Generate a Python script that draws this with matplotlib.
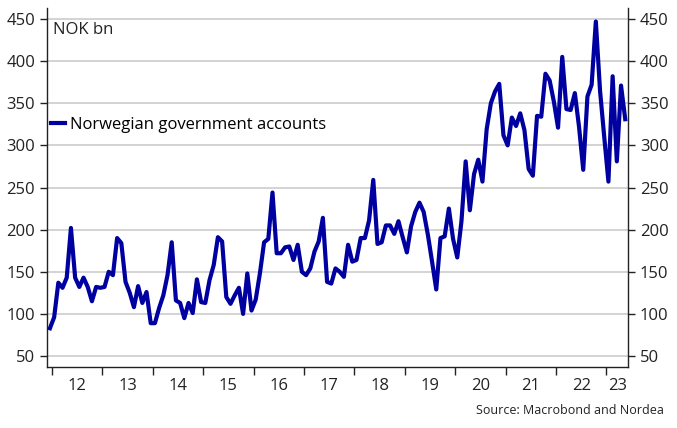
import numpy as np
import matplotlib
matplotlib.use("Agg")
import matplotlib.pyplot as plt

# Monthly values, NOK bn (Dec 2011 - May 2023)
accounts = [
    83, 96, 137, 131, 143, 202, 143, 132, 143, 132, 115, 132,
    131, 132, 150, 146, 190, 184, 138, 125, 108, 133, 113, 126,
    89, 89, 107, 122, 146, 185, 116, 113, 95, 113, 101, 141,
    114, 113, 140, 158, 191, 186, 120, 112, 122, 131, 100, 148,
    104, 117, 148, 185, 189, 244, 172, 172, 179, 180, 164, 182,
    150, 146, 154, 174, 186, 214, 138, 136, 154, 150, 144, 182,
    162, 164, 190, 190, 211, 259, 183, 185, 205, 205, 195, 210,
    191, 173, 204, 221, 232, 221, 194, 162, 129, 190, 192, 225,
    189, 167, 210, 281, 223, 266, 283, 257, 319, 350, 364, 373,
    312, 300, 333, 323, 338, 318, 272, 264, 335, 334, 385, 377,
    352, 321, 405, 343, 342, 362, 322, 271, 358, 372, 447, 365,
    310, 257, 382, 281, 371, 331,
]
years = list(range(2012, 2024))
year_labels = [str(y)[2:] for y in years]

# mid-month positions in decimal years, starting Dec 2011
t = 2012 - 0.5 / 12 + np.arange(len(accounts)) / 12

plt.rcParams["font.family"] = ["Open Sans", "DejaVu Sans"]

fig = plt.figure(figsize=(6.77, 4.28), dpi=100)
ax = fig.add_axes([47 / 677, 61 / 428, 581 / 677, 359 / 428])

ax.plot(t, accounts, color="#0000a0", lw=3, label="Norwegian government accounts",
        solid_joinstyle="round", zorder=3)

ax.set_xlim(2011.9, 2023.43)
ax.set_ylim(37, 463)
ax.set_yticks(range(50, 451, 50))
ax.grid(axis="y", color="#cccccc", lw=1.2)
ax.set_axisbelow(True)

ax.set_xticks(years)
ax.set_xticklabels([])
label_pos = [y + 0.5 for y in years[:-1]] + [2023.22]
ax.set_xticks(label_pos, minor=True)
ax.set_xticklabels(year_labels, minor=True)
ax.tick_params(axis="x", which="major", length=6, width=1, color="#222222")
ax.tick_params(axis="x", which="minor", length=0, pad=8, labelsize=12, colors="#222222")
ax.tick_params(axis="y", left=True, right=True, labelleft=True, labelright=True,
               length=5, width=1, labelsize=12, colors="#222222")

ax.spines["top"].set_visible(False)
for s in ["left", "right", "bottom"]:
    ax.spines[s].set_color("#222222")
    ax.spines[s].set_linewidth(1)

ax.text(0.011, 0.94, "NOK bn", transform=ax.transAxes, fontsize=12,
        color="#222222", va="center", ha="left")

ax.legend(loc="center left", bbox_to_anchor=(-0.005, 0.674), frameon=False,
          fontsize=12, handlelength=0.85, handletextpad=0.3, borderaxespad=0)

fig.text(664 / 677, 1 - 410 / 428, "Source: Macrobond and Nordea", fontsize=9,
         color="#222222", ha="right", va="center")

fig.savefig("out.png", dpi=100)
